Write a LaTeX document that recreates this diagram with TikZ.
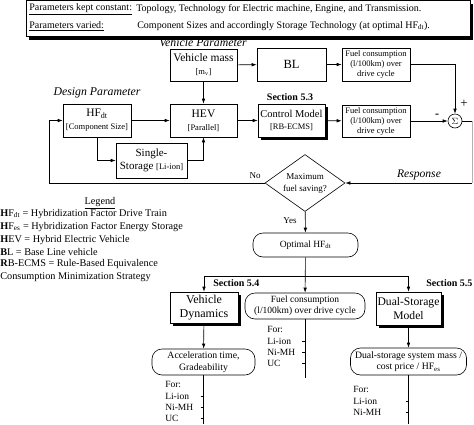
\documentclass[tikz,border=0pt]{standalone}
\usepackage{fontspec}
\setmainfont{Liberation Serif}
\usepackage{tikz}
\usetikzlibrary{arrows.meta,shapes.geometric,shadows}
\newcommand{\fsB}{\fontsize{11.5}{13}\selectfont}
\newcommand{\fsM}{\fontsize{10}{11}\selectfont}
\newcommand{\fsS}{\fontsize{8.5}{10}\selectfont}
\newcommand{\HFdt}{HF\textsubscript{dt}}

\begin{document}
\begin{tikzpicture}[x=1pt,y=-1pt,>={Latex[length=5pt,width=3.5pt]},line width=0.6pt,
  box/.style={draw,fill=white,align=center,inner sep=1pt},
  shbox/.style={box,drop shadow={shadow xshift=3pt,shadow yshift=-3pt,fill=black,opacity=1}},
  pill/.style={box,rounded corners=10pt},
  sec/.style={font=\fontsize{10}{11}\selectfont\bfseries},
  hint/.style={font=\fontsize{11.8}{14}\selectfont\itshape},
  lst/.style={font=\fontsize{9.5}{10}\selectfont,anchor=west,inner sep=0pt}]
\useasboundingbox (0,0) rectangle (474,424);
% constants and variations
\node[shbox,minimum width=444pt,minimum height=36pt] (params) at (248,18.5) {};
\node[anchor=west,font=\fsM,inner sep=0pt] (kc) at (29,9) {\underline{Parameters kept constant:}};
\node[anchor=west,font=\fsM,inner sep=0pt] (kv) at (136,9) {Topology, Technology for Electric machine, Engine, and Transmission.};
\node[anchor=west,font=\fsM,inner sep=0pt] (vc) at (29,26) {\underline{Parameters varied:}};
\node[anchor=west,font=\fsM,inner sep=0pt] (vv) at (137,26) {Component Sizes and accordingly Storage Technology (at optimal \HFdt).};

\node[hint] (vpar) at (203,42) {Vehicle Parameter};
\node[hint] (dpar) at (97,93) {Design Parameter};
\node[box,minimum width=67pt,minimum height=32pt,font=\fsB] (vmass) at (203.5,65) {Vehicle mass\\{\fsS[m\textsubscript{v}]}};
\node[box,minimum width=69pt,minimum height=33pt,font=\fontsize{12.5}{15}\selectfont] (bl) at (291.5,64.5) {BL};
\node[box,minimum width=68pt,minimum height=33pt,font=\fsS] (fuelA) at (376,64.5) {Fuel consumption\\(l/100km) over\\drive cycle};
\node[box,minimum width=68pt,minimum height=33pt,font=\fsB] (hfdt) at (97,120.5) {\HFdt\\{\fsS[Component Size]}};
\node[box,minimum width=67pt,minimum height=33pt,font=\fsB] (hev) at (203.5,120.5) {HEV\\{\fsS[Parallel]}};
\node[sec] (s53) at (290,97) {Section 5.3};
\node[shbox,minimum width=67pt,minimum height=33pt,font=\fontsize{10.5}{12.5}\selectfont] (ctrl) at (291.5,120.5) {Control Model\\{\fsS[RB-ECMS]}};
\node[box,minimum width=68pt,minimum height=32pt,font=\fsS] (fuelB) at (376,121) {Fuel consumption\\(l/100km) over\\drive cycle};
\node[draw,circle,minimum size=14pt,inner sep=0pt,font=\fontsize{9}{10}\selectfont] (sum) at (455,121) {$\Sigma$};
\node[font=\fontsize{13}{14}\selectfont] (plus) at (464,104) {+};
\node[font=\fontsize{12}{14}\selectfont\bfseries] (minus) at (437,116) {-};
\node[box,minimum width=71pt,minimum height=35pt,font=\fontsize{11}{13}\selectfont] (single) at (151.5,160.5) {Single-\\Storage {\fsS[Li-ion]}};

% decision
\node[draw,diamond,minimum width=80pt,minimum height=57pt,inner sep=0pt,shape aspect=1.4,align=center,font=\fontsize{9}{12}\selectfont] (dec) at (305,183) {Maximum\\fuel saving?};
\node[font=\fontsize{9}{10}\selectfont] (no) at (255,176) {No};
\node[font=\fontsize{9}{10}\selectfont] (yes) at (290,221) {Yes};
\node[font=\fontsize{11.6}{13}\selectfont\itshape] (resp) at (419,175) {Response};
\node[pill,minimum width=105pt,minimum height=24pt,font=\fontsize{9.5}{11}\selectfont] (opt) at (305.5,245) {Optimal \HFdt};
\coordinate (rc) at (472,183);
\coordinate (fb) at (49,183);
\coordinate (split) at (305,276);
\coordinate (bot) at (0,424);

% legend
\node[font=\fontsize{10.25}{12}\selectfont] (leg) at (100,203) {\underline{Legend}};
\foreach \y/\t in {214/{\textbf{H}F\textsubscript{dt} = Hybridization Factor Drive Train},
  227/{\textbf{H}F\textsubscript{es} = Hybridization Factor Energy Storage},
  240/{\textbf{H}EV = Hybrid Electric Vehicle},
  252/{\textbf{B}L = Base Line vehicle},
  264/{\textbf{R}B-ECMS = Rule-Based Equivalence},
  277/{Consumption Minimization Strategy}}
  {\node[font=\fontsize{10.25}{12}\selectfont,anchor=west,inner sep=0pt] (leg\y) at (0,\y) {\t};}

% results
\node[sec,anchor=west,inner sep=0pt] (s54) at (213,283) {Section 5.4};
\node[sec,anchor=west,inner sep=0pt] (s55) at (426,283) {Section 5.5};
\node[shbox,minimum width=68pt,minimum height=31pt,font=\fontsize{12}{13.5}\selectfont] (vdyn) at (204,307.5) {Vehicle\\Dynamics};
\node[pill,minimum width=120pt,minimum height=26pt,font=\fontsize{9.5}{11}\selectfont] (fuelC) at (305,306) {Fuel consumption\\(l/100km) over drive cycle};
\node[shbox,minimum width=65pt,minimum height=33pt,font=\fontsize{11.6}{13.5}\selectfont] (dual) at (408.5,308.5) {Dual-Storage\\Model};
\node[pill,minimum width=103pt,minimum height=26pt,font=\fontsize{9.75}{12}\selectfont] (accel) at (203.5,362) {Acceleration time,\\Gradeability};
\node[pill,minimum width=116pt,minimum height=27pt,font=\fontsize{9.75}{11.5}\selectfont] (dres) at (408.5,361.5) {Dual-storage system mass /\\cost price / HF\textsubscript{es}};

\foreach \y/\t in {384/For:,396/Li-ion,407/Ni-MH,418/UC}{\node[lst] (la\y) at (165,\y) {\t};}
\foreach \y/\t in {329/For:,341/Li-ion,352/Ni-MH,363/UC}{\node[lst] (lb\y) at (267,\y) {\t};}
\foreach \y/\t in {389/For:,401/Li-ion / UC,412/Ni-MH / UC}{\node[lst] (lc\y) at (353,\y) {\t};}
\foreach \y in {396,407,418}{\draw (200.5,\y)--(203.5,\y);}
\foreach \y in {341,352,363}{\draw (302,\y)--(305,\y);}
\foreach \y in {401,412}{\draw (405.5,\y)--(408.5,\y);}

% connectors
\draw[->] (vmass) -- (bl);
\draw[->] (bl) -- (fuelA);
\draw[->] (fuelA.east) -| (sum.north);
\draw[->] (vmass) -- (hev);
\draw[->] (hfdt) -- (hev);
\draw[->] (hev) -- (ctrl);
\draw[->] (ctrl) -- (fuelB);
\draw[->] (fuelB) -- (sum);
\draw[->] (hfdt.south) |- (single.west);
\draw[->] (single.east) -| (hev.south);
\draw (sum.east) -- (sum.east -| rc);
\draw[gray!60] (sum.east -| rc) -- (rc);
\draw[->] (rc) -- (dec.east);
\draw[->] (dec.west) -- (fb) |- (hfdt.west);
\draw[->] (dec) -- (opt);
\draw[->] (opt) -- (fuelC);
\draw[->] (split) -| (vdyn.north);
\draw[->] (split) -| (dual.north);
\draw[->] (vdyn) -- (accel);
\draw[->] (dual) -- (dres);
\draw (accel.south) -- (accel.south |- bot);
\draw (fuelC.south) -- ++(0,59);
\draw (dres.south) -- (dres.south |- bot);
\end{tikzpicture}
\end{document}
